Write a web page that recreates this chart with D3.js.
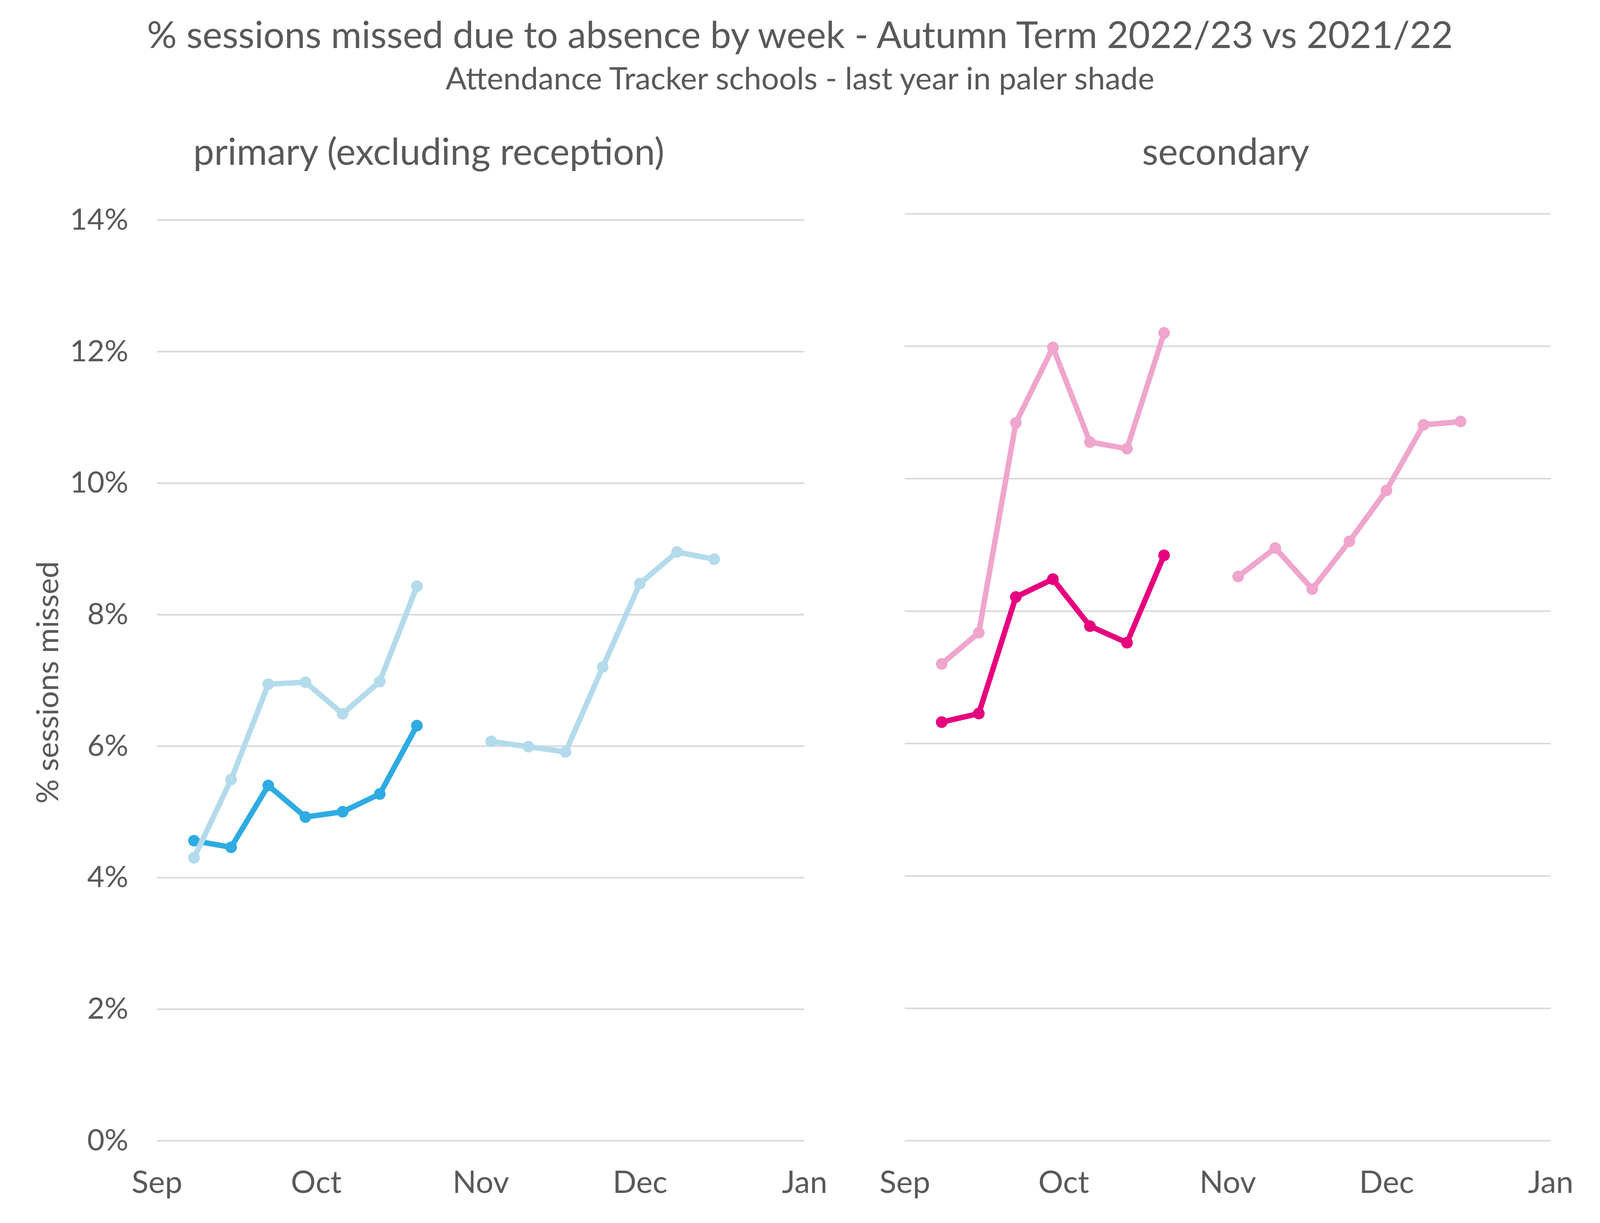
<!DOCTYPE html>
<html>
<head>
<meta charset="utf-8">
<script src="https://cdn.jsdelivr.net/npm/d3@7"></script>
<style>
  html, body { margin: 0; padding: 0; width: 100%; height: 100%; overflow: hidden; background: #fff; }
  svg { display: block; }
  text { font-family: Lato, sans-serif; fill: #595959; }
</style>
</head>
<body>
<svg id="chart"></svg>
<script>
// Week dates (half-term week left empty so the lines break)
const weeks = ["2022-09-08", "2022-09-15", "2022-09-22", "2022-09-29", "2022-10-06", "2022-10-13", "2022-10-20",
               "2022-10-27",
               "2022-11-03", "2022-11-10", "2022-11-17", "2022-11-24", "2022-12-01", "2022-12-08", "2022-12-15"];

// % sessions missed
const primaryThisYear   = [4.56, 4.46, 5.40, 4.92, 5.00, 5.27, 6.31];
const primaryLastYear   = [4.30, 5.49, 6.94, 6.97, 6.49, 6.98, 8.43, null, 6.07, 5.99, 5.91, 7.20, 8.47, 8.95, 8.84];
const secondaryThisYear = [6.32, 6.45, 8.21, 8.48, 7.77, 7.52, 8.84];
const secondaryLastYear = [7.20, 7.67, 10.84, 11.98, 10.55, 10.45, 12.20, null, 8.52, 8.95, 8.33, 9.05, 9.82, 10.81, 10.86];

const yTicks = [0, 2, 4, 6, 8, 10, 12, 14];
const monthTicks = ["2022-09-01", "2022-10-01", "2022-11-01", "2022-12-01", "2023-01-01"];

// laid out for 4724 x 3131 and stretched to whatever window we get
const baseW = 4724, baseH = 3131;
const width = window.innerWidth || baseW, height = window.innerHeight || baseH;
const sx = width / baseW, sy = height / baseH;
const sm = Math.sqrt(sx * sy);
const px = v => v * sx, py = v => v * sy, fs = v => (v * sx) + "px";

const parse = d3.timeParse("%Y-%m-%d");

const svg = d3.select("#chart")
    .attr("width", width)
    .attr("height", height);

svg.append("rect").attr("width", width).attr("height", height).attr("fill", "#fff");

// titles
svg.append("text")
    .attr("x", px(2362)).attr("y", py(123))
    .attr("text-anchor", "middle")
    .style("font-size", fs(110))
    .text("% sessions missed due to absence by week - Autumn Term 2022/23 vs 2021/22");

svg.append("text")
    .attr("x", px(2362)).attr("y", py(229))
    .attr("text-anchor", "middle")
    .style("font-size", fs(92))
    .text("Attendance Tracker schools - last year in paler shade");

// y axis label
svg.append("text")
    .attr("transform", `translate(${px(172)},${py(1747)}) rotate(-90)`)
    .attr("text-anchor", "middle")
    .style("font-size", fs(90))
    .text("% sessions missed");

const panels = [
  { title: "primary (excluding reception)", titleX: 1266, x0: 463, x1: 2375, yTop: 563,
    dark: primaryThisYear, pale: primaryLastYear, darkColour: "#2eabe2", paleColour: "#b3dbec", yLabels: true },
  { title: "secondary", titleX: 3619, x0: 2671, x1: 4578, yTop: 547,
    dark: secondaryThisYear, pale: secondaryLastYear, darkColour: "#e6007e", paleColour: "#efa5cc", yLabels: false }
];

panels.forEach(p => {
  const x = d3.scaleTime()
      .domain([parse(monthTicks[0]), parse(monthTicks[monthTicks.length - 1])])
      .range([px(p.x0), px(p.x1)]);
  const y = d3.scaleLinear().domain([0, 14]).range([py(2920), py(p.yTop)]);

  const g = svg.append("g");

  g.append("text")
      .attr("x", px(p.titleX)).attr("y", py(422))
      .attr("text-anchor", "middle")
      .style("font-size", fs(110))
      .text(p.title);

  // gridlines
  const yAxis = d3.axisLeft(y)
      .tickValues(yTicks)
      .tickSize(-(px(p.x1) - px(p.x0)))
      .tickPadding(px(84))
      .tickFormat(d => p.yLabels ? d + "%" : "");
  const ya = g.append("g").attr("transform", `translate(${px(p.x0)},0)`).call(yAxis);
  ya.select(".domain").remove();
  ya.selectAll(".tick line").attr("stroke", "#d9d9d9").attr("stroke-width", 4 * sy);
  ya.selectAll(".tick text").style("font-size", fs(88)).attr("fill", "#595959");

  // x axis labels
  const xAxis = d3.axisBottom(x)
      .tickValues(monthTicks.map(parse))
      .tickSize(0)
      .tickPadding(0)
      .tickFormat(d3.timeFormat("%b"));
  const xa = g.append("g").attr("transform", `translate(0,${py(2997)})`).call(xAxis);
  xa.select(".domain").remove();
  xa.selectAll(".tick text").style("font-size", fs(92)).attr("fill", "#595959").attr("dy", "0.71em");

  const series = [
    { values: p.dark, colour: p.darkColour },
    { values: p.pale, colour: p.paleColour }
  ];

  series.forEach(s => {
    const pts = s.values.map((v, i) => ({ date: parse(weeks[i]), v }));
    const line = d3.line()
        .defined(d => d.v != null)
        .x(d => x(d.date))
        .y(d => y(d.v));
    g.append("path")
        .datum(pts)
        .attr("fill", "none")
        .attr("stroke", s.colour)
        .attr("stroke-width", 15 * sm)
        .attr("stroke-linejoin", "round")
        .attr("d", line);
    g.selectAll(null)
        .data(pts.filter(d => d.v != null))
        .enter()
        .append("circle")
        .attr("cx", d => x(d.date))
        .attr("cy", d => y(d.v))
        .attr("r", 16 * sm)
        .attr("fill", s.colour);
  });
});
</script>
</body>
</html>
